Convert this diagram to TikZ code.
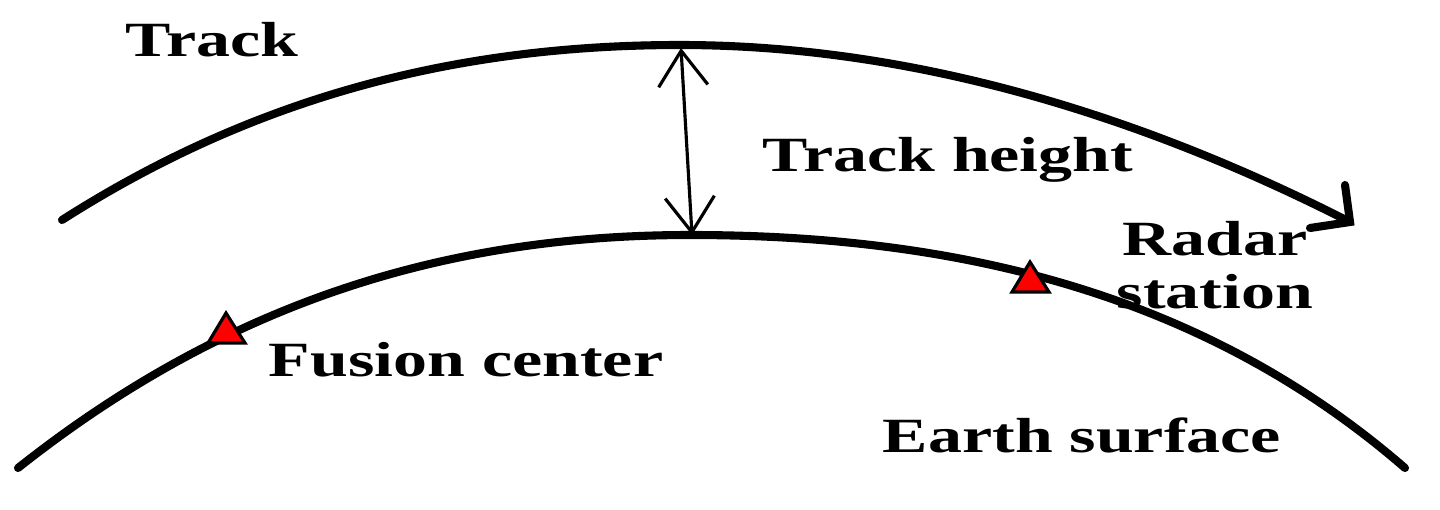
\documentclass[tikz,border=0pt]{standalone}
\usepackage{fontspec}
\setmainfont{Liberation Serif}
\usetikzlibrary{arrows.meta}
\begin{document}
\begin{tikzpicture}[x=0.01cm,y=-0.01cm,
  arc/.style={line width=2.3pt,line cap=round},
  lbl/.style={font=\fontsize{14pt}{15pt}\selectfont\bfseries,align=center,xscale=1.38},
  tri/.style={fill=red,draw=black,line width=0.9pt,line join=miter}]
\useasboundingbox (0,0) rectangle (1440,509);
\coordinate (t0) at (62,220);
\coordinate (tp) at (680,45);
\coordinate (t1) at (1350,222);
\coordinate (b0) at (18,468);
\coordinate (bp) at (690,235);
\coordinate (b1) at (1405,468);
\draw[arc] (t0) .. controls (250,100) and (450,45) .. (tp) .. controls (920,45) and (1150,120) .. (t1);
\draw[arc] (1310,228) -- (t1) -- (1345,185);
\draw[arc] (b0) .. controls (230,300) and (450,235) .. (bp) .. controls (950,235) and (1200,290) .. (b1);
\draw[line width=0.9pt,{Straight Barb[length=10pt,width=14pt,line width=0.9pt]}-{Straight Barb[length=10pt,width=14pt,line width=0.9pt]}] (681,48) -- (692,235);
\draw[tri] (208,343) -- (226,313) -- (245,343) -- cycle;
\draw[tri] (1012,292) -- (1030,262) -- (1049,292) -- cycle;
\node[lbl] (track) at (212,40) {Track};
\node[lbl] (th) at (948,160) {Track height};
\node[lbl] (rs) at (1215,265) {Radar\\station};
\node[lbl] (fc) at (466,360) {Fusion center};
\node[lbl] (es) at (1082,435) {Earth surface};
\end{tikzpicture}
\end{document}
